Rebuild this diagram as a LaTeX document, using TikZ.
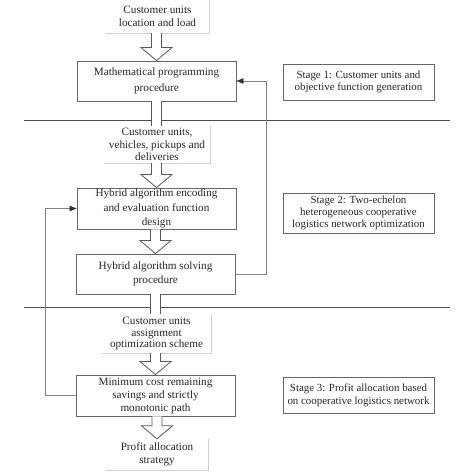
\documentclass[tikz,border=0pt]{standalone}
\usepackage{fontspec}
\setmainfont{Liberation Serif}
\usetikzlibrary{arrows.meta,calc}
\begin{document}
\begin{tikzpicture}[x=1pt,y=1pt,
  every node/.style={text=black!85},
  procbox/.style={draw=black!60, line width=0.9pt, minimum width=159, inner sep=0pt, align=center, font=\fontsize{11.2}{13.5}\selectfont},
  stagebox/.style={draw=black!60, line width=0.9pt, minimum width=151, inner sep=0pt, align=center, font=\fontsize{10.9}{12}\selectfont},
  docnode/.style={inner sep=0pt, align=center, font=\fontsize{11.2}{12.5}\selectfont},
  docframe/.style={draw=black!18, line width=0.9pt},
  sepline/.style={draw=black!70, line width=0.9pt},
  hollow/.style={draw=black!65, line width=0.8pt, fill=white},
  fb/.style={draw=black!50, line width=0.8pt, -{Triangle[length=7pt,width=5.5pt,color=black!80]}}
]
\useasboundingbox (0,0) rectangle (474,-474);

% separator lines
\coordinate (L1a) at (24,-120); \coordinate (L1b) at (450,-120);
\coordinate (L2a) at (24,-307); \coordinate (L2b) at (450,-307);
\draw[sepline] (L1a) -- (L1b);
\draw[sepline] (L2a) -- (L2b);

% document-style texts
\node[docnode, minimum width=103, minimum height=33] (doc1) at (157.5,-16.5) {Customer units\\location and load};
\node[docnode, minimum width=106, minimum height=37] (doc2) at (157,-144.5) {Customer units,\\vehicles, pickups and\\deliveries};
\node[docnode, minimum width=109, minimum height=39, font=\fontsize{11.2}{11.5}\selectfont] (doc3) at (156.5,-333.5) {Customer units\\assignment\\optimization scheme};
\node[docnode, minimum width=102, minimum height=31, font=\fontsize{11.2}{13}\selectfont] (doc4) at (157,-454.5) {Profit allocation\\strategy};
\foreach \d in {doc1,doc2,doc3,doc4}
  \draw[docframe] (\d.south west) -- (\d.south east) -- (\d.north east);

% process boxes
\node[procbox, minimum height=40, font=\fontsize{11.2}{16}\selectfont] (box1) at (156.5,-81) {Mathematical programming\\procedure};
\node[procbox, minimum height=41, font=\fontsize{11.2}{14.5}\selectfont] (box2) at (156.5,-208.5) {Hybrid algorithm encoding\\and evaluation function\\design};
\node[procbox, minimum height=40, font=\fontsize{11.2}{14.5}\selectfont] (box3) at (155.5,-274) {Hybrid algorithm solving\\procedure};
\node[procbox, minimum height=41, font=\fontsize{11.2}{13}\selectfont] (box4) at (155.5,-395.5) {Minimum cost remaining\\savings and strictly\\monotonic path};

% stage boxes
\node[stagebox, minimum height=36] (st1) at (358.5,-82) {Stage 1: Customer units and\\objective function generation};
\node[stagebox, minimum height=40] (st2) at (358.5,-213) {Stage 2: Two-echelon\\heterogeneous cooperative\\logistics network optimization};
\node[stagebox, minimum height=36, font=\fontsize{10.9}{13}\selectfont] (st3) at (358.5,-395) {Stage 3: Profit allocation based\\on cooperative logistics network};

% hollow arrows
\newcommand\harrow[2]{%
  \draw[hollow] let \p1=(#1), \p2=(#2) in
    (\x2-5pt,\y1) -- (\x2-5pt,\y2+13pt) -- (\x2-15.5pt,\y2+13pt) -- (\x2,\y2)
    -- (\x2+15.5pt,\y2+13pt) -- (\x2+5pt,\y2+13pt) -- (\x2+5pt,\y1);}
\newcommand\hshaft[2]{%
  \fill[white] let \p1=(#1), \p2=(#2) in (\x1-5pt,\y1) rectangle (\x1+5pt,\y2);
  \draw[hollow] let \p1=(#1), \p2=(#2) in (\x1-5pt,\y1) -- (\x1-5pt,\y2) (\x1+5pt,\y1) -- (\x1+5pt,\y2);}
\harrow{doc1.south}{box1.north}
\hshaft{box1.south}{doc2.north}
\harrow{doc2.south}{box2.north}
\harrow{box2.south}{box3.north}
\hshaft{box3.south}{doc3.north}
\harrow{doc3.south}{box4.north}
\harrow{box4.south}{doc4.north}

% feedback connectors
\draw[fb] (box3.east) -- ++(31,0) |- (box1.east);
\draw[fb] (box4.west) -- ++(-30,0) |- (box2.west);
\end{tikzpicture}
\end{document}
